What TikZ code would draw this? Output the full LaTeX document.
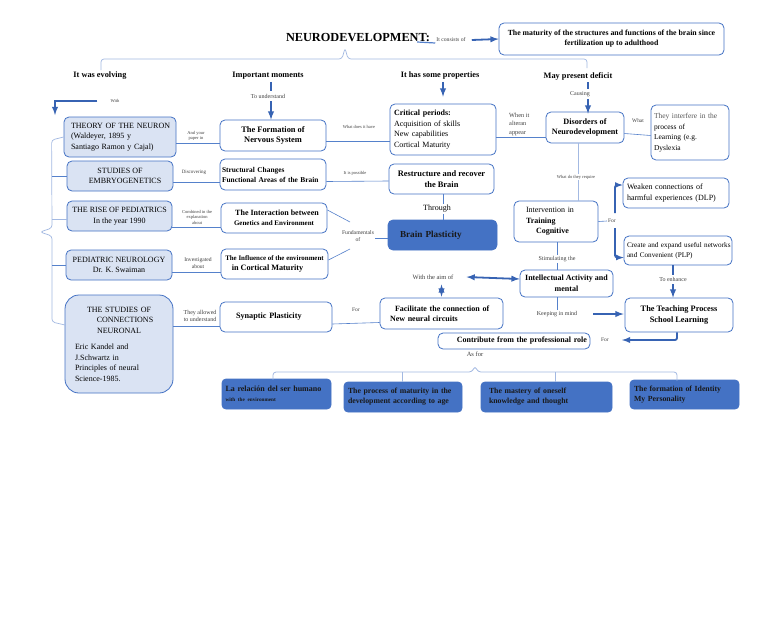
\documentclass[tikz,border=0pt]{standalone}
\usepackage{fontspec}
\setmainfont{Liberation Serif}
\definecolor{boxblue}{HTML}{4472C4}
\definecolor{paleblue}{HTML}{DAE3F3}
\definecolor{lineblue}{HTML}{5581CB}
\definecolor{braceblue}{HTML}{A3B9E2}
\definecolor{arrowblue}{HTML}{3763B3}
\tikzset{palebox/.style={draw=boxblue, fill=paleblue, line width=0.8pt,
    rounded corners=5pt, inner sep=2pt, align=center,
    font=\fontsize{8}{10.5}\selectfont},
  plainbox/.style={draw=boxblue, fill=white, line width=0.8pt,
    rounded corners=5pt, inner sep=2pt, align=center,
    font=\bfseries\fontsize{8}{10}\selectfont},
  darkbox/.style={draw=boxblue, fill=boxblue, line width=0.8pt,
    rounded corners=4pt, inner sep=4pt, align=left, text=black!90,
    font=\bfseries\fontsize{7.8}{10}\selectfont},
  tiny label/.style={font=\fontsize{6}{6.8}\selectfont, text=black!75,
    align=center, inner sep=1pt},
  small label/.style={font=\fontsize{4.5}{5.5}\selectfont, text=black!75,
    align=center, inner sep=1pt},
  head label/.style={font=\bfseries\fontsize{8.3}{9}\selectfont, inner sep=1pt},
  link/.style={draw=lineblue, line width=0.6pt},
  fat line/.style={draw=arrowblue, line width=1.8pt},
  fat arrow/.style={draw=arrowblue, line width=1.8pt, -latex},
  dbl arrow/.style={draw=arrowblue, line width=1.8pt, latex-latex}
}

\begin{document}
\begin{tikzpicture}[x=1pt, y=-1pt]
    \useasboundingbox[fill=white] (0,0) rectangle (768,637);
    % title and definition
    \draw (358,38) node[font=\bfseries\fontsize{12.3}{14}\selectfont, inner sep=1pt]
    (title) {NEURODEVELOPMENT:};
    \draw (451,40) node[tiny label, font=\fontsize{5.7}{6.5}\selectfont] (consists) {It consists of};
    \draw (611.5,39) node[plainbox, minimum width=225pt, minimum height=32pt,
    font=\bfseries\fontsize{7.8}{10}\selectfont]
    (maturity) {The maturity of the structures and functions of the brain since\\fertilization up to adulthood};
    \draw[link, line width=1.2pt] ([xshift=-14pt, yshift=-4pt]title.east) -- ([yshift=-3pt]consists.west);
    \draw[fat arrow] ([xshift=5pt]consists.east) -- (maturity.west);
    \draw[braceblue, line width=0.7pt, rounded corners=3pt] (101,70) -- (101,59) -- (342,59)
    -- (345,48) -- (348,59) -- (587,59) -- (587,68);
    % headings
    \draw (100,76) node[head label] (evolving) {It was evolving};
    \draw (268,76) node[head label] (moments) {Important moments};
    \draw (440,76) node[head label] (properties) {It has some properties};
    \draw (578,76) node[head label] (deficit) {May present deficit};
    \draw (268,96) node[tiny label] (understand) {To understand};
    \draw (580,94) node[tiny label] (causing) {Causing};
    \draw (115,101) node[small label] (with) {With};
    \coordinate (withtip) at (55,115);
    % left column
    \draw (120,137) node[palebox, text width=98pt, inner xsep=7pt, minimum height=40pt, align=left]
    (theory) {\mbox{THEORY OF THE NEURON}\\(Waldeyer, 1895 y\\Santiago Ramon y Cajal)};
    \draw (120,176) node[palebox, minimum width=106pt, minimum height=30pt]
    (embryo) {STUDIES OF\\\hspace*{10pt}EMBRYOGENETICS};
    \draw (119.5,216) node[palebox, minimum width=105pt, minimum height=30pt, inner xsep=0pt]
    (rise) {THE RISE OF PEDIATRICS\\In the year 1990};
    \draw (119,265) node[palebox, minimum width=106pt, minimum height=30pt, inner xsep=0pt]
    (pedneuro) {PEDIATRIC NEUROLOGY\\Dr. K. Swaiman};
    \draw (119,344) node[palebox, rounded corners=14pt, text width=88pt, inner xsep=10pt,
    minimum height=98pt, align=left]
    (studies) {{\centering THE STUDIES OF\\\hspace*{12pt}CONNECTIONS\\NEURONAL\par}\vspace{6pt}Eric Kandel and\\J.Schwartz in\\Principles of neural\\Science-1985.};
    \draw[braceblue, line width=0.7pt, rounded corners=3pt] (theory.west) -- ++(-12,3)
    -- (52,228) -- (40,232) -- (52,236) -- (52,322) -- (65,325);
    \draw[link] (embryo.west) -- ++(-15,0);
    \draw[braceblue, line width=0.7pt] ([yshift=-3pt]rise.west) -- ++(-15,0);
    \draw[link] (pedneuro.west) -- ++(-14,0);
    \draw[fat arrow] ([xshift=-12pt]with.west) -| (withtip);
    % second column
    \draw (273,135.5) node[plainbox, minimum width=106pt, minimum height=31pt,
    font=\bfseries\fontsize{8.4}{10.5}\selectfont]
    (A) {The Formation of\\Nervous System};
    \draw (273,174.5) node[plainbox, text width=102pt, inner xsep=2pt, minimum height=31pt,
    align=left, font=\bfseries\fontsize{7.4}{10}\selectfont]
    (B) {Structural Changes\\Functional Areas of the Brain};
    \draw (274,218) node[plainbox, minimum width=106pt, minimum height=30pt]
    (C) {\hspace*{6pt}The Interaction between\\{\fontsize{7}{8.5}\selectfont Genetics and Environment}};
    \draw (274.5,264) node[plainbox, minimum width=107pt, minimum height=30pt, inner xsep=0pt]
    (D) {{\fontsize{6.9}{8.5}\selectfont The Influence of the environment}\\\fontsize{8.2}{10}\selectfont in Cortical Maturity\hspace*{14pt}};
    \draw (276,317) node[plainbox, text width=104pt, inner xsep=4pt, minimum height=30pt,
    align=left, font=\bfseries\fontsize{8.2}{10}\selectfont]
    (E) {\hspace*{12pt}Synaptic Plasticity};
    \draw[fat line] ([yshift=-1pt]moments.south -| 271,0) -- ([yshift=2pt]understand.north -| 271,0);
    \draw[fat arrow] ([yshift=-2pt]understand.south -| 271,0) -- (A.north -| 271,0);
    \draw (196,136) node[small label] (paperin) {And your\\paper in};
    \draw (194,172) node[small label, font=\fontsize{5}{6}\selectfont] (discovering) {Discovering};
    \draw (197,217) node[small label] (combined) {Combined in the\\explanation\\about};
    \draw (198,263) node[tiny label, font=\fontsize{5.6}{7}\selectfont] (investigated) {Investigated\\about};
    \draw (200,316) node[tiny label] (allowed) {They allowed\\to understand};
    \draw[link] ([yshift=-6pt]theory.east) -- ([yshift=-6pt]theory.east -| A.west);
    \draw[link] ([yshift=-6pt]embryo.east) -- ([yshift=-6pt]embryo.east -| B.west);
    \draw[link] ([yshift=-11pt]rise.east) -- ([yshift=-11pt]rise.east -| C.west);
    \draw[link] ([yshift=-7pt]pedneuro.east) -- ([yshift=-7pt]pedneuro.east -| D.west);
    \draw[link] ([yshift=-9pt]E.west -| studies.east) -- ([yshift=-9pt]E.west);
    % third column
    \draw (443,129.5) node[plainbox, text width=98pt, inner xsep=4pt, minimum height=51pt,
    align=left, font=\fontsize{8}{10.5}\selectfont]
    (F) {\textbf{Critical periods:}\\Acquisition of skills\\New capabilities\\Cortical Maturity};
    \draw (441.5,179) node[plainbox, minimum width=105pt, minimum height=30pt,
    font=\bfseries\fontsize{8.4}{10.5}\selectfont]
    (G) {Restructure and recover\\the Brain};
    \draw (442.5,235) node[plainbox, fill=boxblue, text width=95pt, inner xsep=7pt,
    minimum height=30pt, align=left, font=\bfseries\fontsize{9.2}{10}\selectfont, text=black!90]
    (H) {\hspace*{5pt}Brain Plasticity};
    \draw (441.5,313.5) node[plainbox, text width=103pt, inner xsep=10pt, minimum height=31pt,
    align=left]
    (I) {\hspace*{5pt}Facilitate the connection of\\New neural circuits};
    \draw[fat arrow, shorten >=7pt] ([yshift=-1pt]properties.south -| F.north) -- (F.north);
    \draw (359,127) node[small label] (whathave) {What does it have};
    \draw (355,173) node[small label] (possible) {It is possible};
    \draw (358,236) node[tiny label, font=\fontsize{5.7}{7}\selectfont] (fundamentals) {Fundamentals\\of};
    \draw (356,310) node[tiny label, font=\fontsize{5.5}{6}\selectfont] (forE) {For};
    \coordinate (fundup) at (350,222);
    \coordinate (funddown) at (350,249);
    \draw[link] ([yshift=-6pt]A.east) -- ([yshift=-6pt]A.east -| F.west);
    \draw[link] ([yshift=-7pt]B.east) -- ([yshift=-2pt]G.west);
    \draw[link] ([yshift=8pt]C.east) -- (fundup);
    \draw[link] ([yshift=4pt]D.east) -- (funddown);
    \draw[link] ([yshift=-2pt]fundamentals.east) -- ([yshift=-3pt]H.west);
    \draw[link] ([yshift=-7pt]E.east) -- ([yshift=-9pt]I.west);
    \draw[link] (G.south -| 443,0) -- (H.north -| 443,0);
    \draw (437,209) node[fill=white, inner sep=1pt, font=\fontsize{8}{9}\selectfont]
    (through) {Through};
    % right part
    \draw (585,127.5) node[plainbox, minimum width=78pt, minimum height=31pt, inner xsep=1pt,
    font=\bfseries\fontsize{8.2}{10.5}\selectfont]
    (J) {Disorders of\\Neurodevelopment};
    \draw (690,132.5) node[plainbox, text width=72pt, inner xsep=3pt, minimum height=55pt,
    align=left, font=\fontsize{7.5}{10.5}\selectfont]
    (K) {{\color{black!65}They interfere in the}\\process of\\Learning (e.g.\\Dyslexia};
    \draw (556,221.5) node[plainbox, text width=60pt, inner xsep=12pt, minimum height=41pt,
    align=left, font=\fontsize{8}{10.5}\selectfont]
    (L) {Intervention in\\\textbf{Training}\\\hspace*{10pt}\textbf{Cognitive}};
    \draw (566.5,283.5) node[plainbox, minimum width=93pt, minimum height=27pt, inner xsep=1pt,
    font=\bfseries\fontsize{8}{10.5}\selectfont]
    (M) {Intellectual Activity and\\mental};
    \draw (676,193) node[plainbox, text width=98pt, inner xsep=4pt, minimum height=30pt,
    align=left, font=\fontsize{8}{10.5}\selectfont]
    (N) {Weaken connections of\\harmful experiences (DLP)};
    \draw (678,250.5) node[plainbox, text width=102pt, inner xsep=3pt, minimum height=29pt,
    align=left, font=\fontsize{7.2}{10.5}\selectfont]
    (O) {\mbox{Create and expand useful networks}\\and Convenient (PLP)};
    \draw (679,315) node[plainbox, minimum width=108pt, minimum height=34pt,
    font=\bfseries\fontsize{8.3}{10.5}\selectfont]
    (P) {The Teaching Process\\School Learning};
    \draw (514,341) node[plainbox, text width=146pt, inner xsep=3pt, inner ysep=1pt,
    minimum height=16pt, align=right]
    (Q) {Contribute from the professional role};
    \draw[fat line] ([yshift=-1pt]deficit.south -| 588,0) -- ([yshift=1pt]causing.north -| 588,0);
    \draw[fat arrow] ([yshift=-1pt]causing.south -| 588,0) -- ([yshift=-2pt]J.north -| 588,0);
    \draw (508,124) node[tiny label, anchor=west, align=left, font=\fontsize{6.3}{8.5}\selectfont]
    (alter) {When it\\alteran\\appear};
    \draw (638,121) node[tiny label, font=\fontsize{5.4}{6}\selectfont] (what) {What};
    \draw (576,177) node[small label, fill=white] (require) {What do they require};
    \draw (612,221) node[tiny label, font=\fontsize{5.5}{6}\selectfont] (forL) {For};
    \draw (557,259) node[tiny label] (stimulating) {Stimulating the};
    \draw (433,277) node[tiny label, font=\fontsize{6.5}{7}\selectfont] (aim) {With the aim of};
    \draw (557,314) node[tiny label] (keeping) {Keeping in mind};
    \draw (673,279) node[tiny label] (enhance) {To enhance};
    \draw (605,340) node[tiny label, font=\fontsize{5.5}{6}\selectfont] (forP) {For};
    \coordinate (forup) at (615,213);
    \coordinate (fordown) at (615,228);
    \draw[link] ([yshift=-8pt]F.east) -- ([yshift=-10pt]J.west);
    \draw[link] ([yshift=-6pt]J.east) -- ([yshift=-8pt]J.east -| K.west);
    \draw[braceblue, line width=0.7pt] ([xshift=-7pt]J.south) -- (require.north -| 578,0);
    \draw[braceblue, line width=0.7pt] (require.south -| 578,0) -- ([xshift=-7pt]J.south |- L.north);
    \draw[link] (L.east) -- (forL.west);
    \draw[fat arrow, line width=1.6pt, rounded corners=2pt] (forup) |- ([yshift=8pt]N.west);
    \draw[fat arrow, line width=1.6pt, rounded corners=2pt] (fordown) |- ([yshift=-7pt]O.west);
    \draw[fat line] ([xshift=-5pt]O.south) -- ([yshift=1pt]enhance.north);
    \draw[fat arrow] ([yshift=-2pt]enhance.south) -- ([xshift=-6pt]P.north);
    \draw[link] (L.south -| stimulating) -- (stimulating.north);
    \draw[link] (stimulating.south) -- (stimulating |- M.north);
    \draw[dbl arrow] ([xshift=12pt]aim.east) -- ([yshift=-2pt]M.west |- aim.east);
    \draw[dbl arrow] ([yshift=-4pt]I.north |- aim.south) -- ([yshift=1pt]I.north);
    \draw[link] (keeping |- M.south) -- (keeping.north);
    \draw[fat arrow] ([xshift=15pt]keeping.east) -- ([xshift=-1pt]P.west |- keeping.east);
    \draw[fat arrow, rounded corners=2pt] ([xshift=-2pt]P.south) |- ([xshift=12pt]forP.east);
    % bottom row
    \draw (276.5,394) node[darkbox, text width=102pt, inner xsep=3.5pt, minimum height=30pt,
    font=\bfseries\fontsize{8}{10}\selectfont]
    (R1) {La relación del ser humano\\{\fontsize{5.2}{6}\selectfont with the environment}};
    \draw (403,397) node[darkbox, text width=110pt, minimum height=30pt]
    (R2) {The process of maturity in the\\development according to age};
    \draw (546.5,397) node[darkbox, text width=115pt, inner xsep=8pt, minimum height=30pt]
    (R3) {The mastery of oneself\\knowledge and thought};
    \draw (684.5,394.5) node[darkbox, text width=101pt, minimum height=29pt]
    (R4) {The formation of Identity\\My Personality};
    \draw (475,354) node[tiny label, font=\fontsize{6.5}{7}\selectfont] (asfor) {As for};
    \draw[braceblue, line width=0.8pt, rounded corners=3pt] ([yshift=-1pt]R1.north -| 273,0)
    -- (273,372) -- (472,372) -- (475,366) -- (478,372) -- (677,372) -- ([yshift=-1pt]R4.north -| 677,0);
    \draw[braceblue, line width=0.8pt] (402,372) -- (R2.north -| 402,0);
    \draw[braceblue, line width=0.8pt] (555,372) -- (R3.north -| 555,0);
\end{tikzpicture}
\end{document}
